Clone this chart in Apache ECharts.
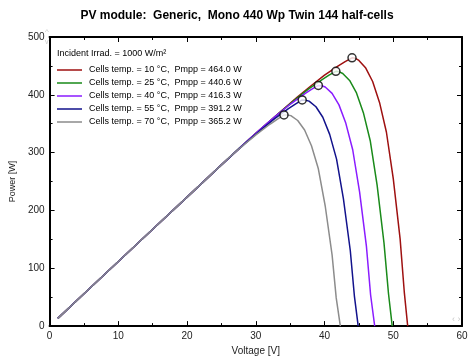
<!DOCTYPE html>
<html><head><meta charset="utf-8">
<script src="https://cdn.jsdelivr.net/npm/echarts@6/dist/echarts.min.js"></script>
<style>html,body{margin:0;padding:0;background:#fff}#c{width:474px;height:361px}</style>
</head><body><div id="c"></div><script>
const titleText = 'PV module:  Generic,  Mono 440 Wp Twin 144 half-cells';
const irradText = 'Incident Irrad. = 1000 W/m²';
const xName = 'Voltage [V]';
const yName = 'Power [W]';
const seriesNames = [
  'Cells temp. = 10 °C,  Pmpp = 464.0 W',
  'Cells temp. = 25 °C,  Pmpp = 440.6 W',
  'Cells temp. = 40 °C,  Pmpp = 416.3 W',
  'Cells temp. = 55 °C,  Pmpp = 391.2 W',
  'Cells temp. = 70 °C,  Pmpp = 365.2 W'
];
const colors = ['#9e1010', '#1a8a1a', '#8a1cff', '#12128c', '#8c8c8c'];
// shared low-voltage part of the curves
const lowV = [1.2, 5, 10, 15, 20, 25];
const lowP = [13.4, 56, 111.8, 167.5, 223, 278.8];
// per-temperature knee parts
const v10 = [30, 34, 36, 38, 40, 42, 43, 44, 44.5, 45, 46, 47, 48, 49, 50, 51, 51.6, 52.1];
const p10 = [333.6, 375.0, 395.6, 415.3, 434.0, 450.2, 457.5, 464.0, 463.2, 459.5, 446.2, 423.0, 386.9, 335.7, 255.0, 150.5, 59.3, 0];
const v25 = [27.65, 31.65, 33.65, 35.65, 37.65, 39.65, 40.65, 41.65, 42.15, 42.65, 43.65, 44.65, 45.65, 46.65, 47.65, 48.65, 49.3, 49.85];
const p25 = [308.5, 350.2, 371.0, 390.9, 409.8, 426.4, 433.9, 440.6, 439.8, 436.9, 424.8, 403.2, 369.2, 320.6, 243.8, 144.0, 56.8, 0];
const v40 = [29.1, 31.1, 33.1, 35.1, 37.1, 38.1, 39.1, 39.6, 40.1, 41.1, 42.1, 43.1, 44.1, 45.1, 46.1, 46.7, 47.3];
const p40 = [324.1, 345.1, 365.3, 384.5, 401.6, 409.3, 416.3, 415.6, 413.4, 402.5, 382.6, 350.7, 305.0, 232.2, 137.3, 54.2, 0];
const v55 = [26.75, 28.75, 30.75, 32.75, 34.75, 35.75, 36.75, 37.25, 37.75, 38.75, 39.75, 40.75, 41.75, 42.75, 43.75, 44.35, 44.9];
const p55 = [297.9, 319.0, 339.3, 358.7, 376.1, 384.0, 391.2, 390.6, 389.1, 379.4, 361.2, 331.6, 288.7, 220.1, 130.3, 51.5, 0];
const v70 = [26.1, 28.1, 30.1, 32.1, 33.1, 34.1, 34.6, 35.1, 36.1, 37.1, 38.1, 39.1, 40.1, 41.1, 41.7, 42.3];
const p70 = [291.3, 311.9, 331.7, 349.5, 357.7, 365.2, 365.0, 364.0, 355.6, 339.1, 311.9, 272.0, 207.7, 123.1, 48.7, 0];
// maximum power points
const mppV = [44.0, 41.65, 39.1, 36.75, 34.1];
const mppP = [464.0, 440.6, 416.3, 391.2, 365.2];

const curveV = [v10, v25, v40, v55, v70];
const curveP = [p10, p25, p40, p55, p70];
const FONT = 'Liberation Sans, Arial, sans-serif';

function axisBase(showLabel) {
  return {
    type: 'value',
    axisLine: { show: true, onZero: false, lineStyle: { color: '#000', width: 2 } },
    axisTick: { show: true, inside: true, length: 5, lineStyle: { color: '#000', width: 1 } },
    minorTick: { show: true, splitNumber: 2, length: 3, lineStyle: { color: '#000', width: 1 } },
    splitLine: { show: false },
    axisLabel: { show: showLabel, color: '#222', fontSize: 10, fontFamily: FONT, margin: 5, showMinLabel: true, showMaxLabel: true }
  };
}

const chart = echarts.init(document.getElementById('c'), null, { renderer: 'canvas' });
const series = seriesNames.map((name, k) => ({
  name: name,
  type: 'line',
  symbol: 'none',
  showSymbol: false,
  smooth: false,
  lineStyle: { color: colors[k], width: 1.5 },
  itemStyle: { color: colors[k] },
  data: lowV.concat(curveV[k]).map((v, i) => [v, lowP.concat(curveP[k])[i]]),
  z: 2 + k
}));
series.push({
  name: 'MPP',
  type: 'scatter',
  symbol: 'circle',
  symbolSize: 8,
  itemStyle: { color: '#fff', borderColor: '#000', borderWidth: 1.5 },
  data: mppV.map((v, i) => [v, mppP[i]]),
  z: 10
});

const xb = Object.assign(axisBase(true), {
  min: 0, max: 60, interval: 10, position: 'bottom',
  name: xName, nameLocation: 'middle', nameGap: 17,
  nameTextStyle: { color: '#222', fontSize: 10, fontFamily: FONT }
});
const xt = Object.assign(axisBase(false), { min: 0, max: 60, interval: 10, position: 'top' });
const yl = Object.assign(axisBase(true), {
  min: 0, max: 500, interval: 100, position: 'left',
  name: yName, nameLocation: 'middle', nameGap: 30,
  nameTextStyle: { color: '#222', fontSize: 9, fontFamily: FONT }
});
const yr = Object.assign(axisBase(false), { min: 0, max: 500, interval: 100, position: 'right' });

const lineIcon = 'path://M0,0H0.01V0.01H0Z M0,4.25H25V5.75H0Z M24.99,9.99H25V10H24.99Z';

chart.setOption({
  animation: false,
  backgroundColor: '#fff',
  title: {
    text: titleText, left: 'center', top: 5,
    textStyle: { fontSize: 12, fontWeight: 'bold', color: '#000', fontFamily: FONT }
  },
  grid: { left: 40, right: 12, top: 37, bottom: 34, containLabel: false },
  xAxis: [xb, xt],
  yAxis: [yl, yr],
  legend: {
    data: seriesNames.map(n => ({ name: n, icon: lineIcon })),
    orient: 'vertical',
    left: 57, top: 65, padding: 0,
    itemWidth: 25, itemHeight: 10, itemGap: 3,
    selectedMode: false,
    textStyle: { fontSize: 9, color: '#000', fontFamily: FONT, padding: [0, 0, 0, 2] }
  },
  graphic: [
    { type: 'text', left: 57, top: 49, style: { text: irradText, fontSize: 9, fill: '#000', fontFamily: FONT } },
    { type: 'text', left: 45, top: 28, style: { text: '^', fontSize: 8, fill: '#c8c8c8', fontFamily: FONT } },
    { type: 'text', left: 45, top: 39, style: { text: 'v', fontSize: 7, fill: '#c8c8c8', fontFamily: FONT } },
    { type: 'text', left: 452, top: 315, style: { text: '‹ ›', fontSize: 9, fill: '#c8c8c8', fontFamily: FONT } }
  ],
  series: series
});
</script></body></html>
